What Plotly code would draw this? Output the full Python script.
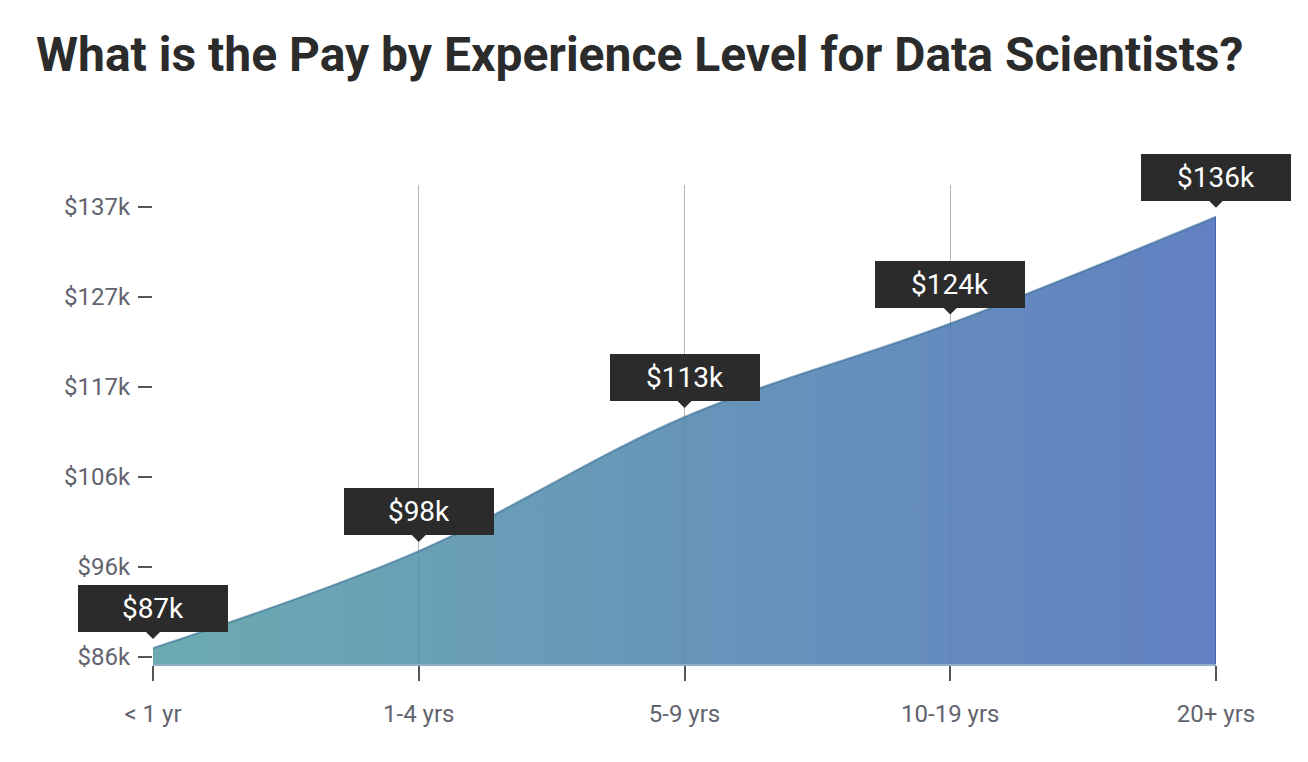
import plotly.graph_objects as go

# data (thousands of USD)
categories = ["< 1 yr", "1-4 yrs", "5-9 yrs", "10-19 yrs", "20+ yrs"]
pay_k = [87.0, 98.0, 113.2, 123.8, 135.9]
pay_labels = ["$87k", "$98k", "$113k", "$124k", "$136k"]
y_tick_vals = [86.0, 96.2, 106.4, 116.6, 126.8, 137.0]
y_tick_text = ["$86k", "$96k", "$106k", "$117k", "$127k", "$137k"]
y_range = [85.2, 139.5]

title = "What is the Pay by Experience Level for Data Scientists?"

FONT = "Roboto"
DARK = "#2b2b2b"
EDGE = "rgba(35,95,135,0.5)"

# the page body adds an 8px margin, so the figure is 8px smaller each way
W, H = 1300, 754

fig = go.Figure()

fig.add_trace(go.Scatter(
    x=categories,
    y=pay_k,
    mode="lines",
    line=dict(shape="spline", color=EDGE, width=2),
    fill="tozeroy",
    fillgradient=dict(
        type="horizontal",
        colorscale=[[0, "rgba(82,156,163,0.85)"], [1, "rgba(70,106,183,0.85)"]],
    ),
    hoverinfo="skip",
    showlegend=False,
))

# darker edge on the right side of the area
fig.add_shape(
    type="line", xref="x", yref="y",
    x0=categories[-1], x1=categories[-1], y0=y_range[0], y1=pay_k[-1],
    line=dict(color="rgba(60,95,175,0.9)", width=2),
    layer="above",
)

# value labels: dark boxes with a small pointer
for cat, val, lab in zip(categories, pay_k, pay_labels):
    fig.add_annotation(
        x=cat, y=val, text=lab,
        showarrow=True, ax=0, ay=-39.5,
        arrowhead=1, arrowsize=4, arrowwidth=1, arrowcolor=DARK,
        standoff=9,
        bgcolor=DARK, borderpad=0, borderwidth=0,
        width=150, height=47,
        font=dict(family=FONT, size=28, color="white"),
    )

fig.update_layout(
    width=W, height=H,
    paper_bgcolor="white", plot_bgcolor="white",
    margin=dict(l=145, r=92, t=177, b=98),
    title=dict(
        text=title,
        font=dict(family=FONT, size=48, color=DARK, weight=700),
        x=28 / W, xref="container", xanchor="left",
        y=1 - 29 / H, yref="container", yanchor="top",
    ),
    font=dict(family=FONT, size=24, color="#62636f"),
)

fig.update_xaxes(
    type="category",
    range=[0, len(categories) - 1],
    showgrid=True, gridcolor="#b5b5b5", gridwidth=1,
    ticks="outside", ticklen=15, tickwidth=2, tickcolor="#555555",
    ticklabelstandoff=12,
    showline=True, linecolor=EDGE, linewidth=2,
    zeroline=False,
)

fig.update_yaxes(
    range=y_range,
    tickvals=y_tick_vals, ticktext=y_tick_text,
    showgrid=False, zeroline=False, showline=False,
    ticks="outside", ticklen=14, tickwidth=1.5, tickcolor="#555555",
    ticklabelstandoff=3,
)

fig.write_html("out.html")
